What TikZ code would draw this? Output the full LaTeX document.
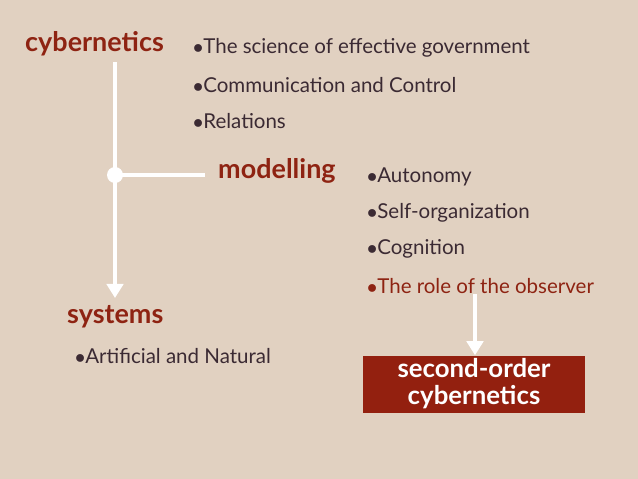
\documentclass[tikz,border=0pt]{standalone}
\usepackage{fontspec}
\setmainfont{Lato}
\usetikzlibrary{arrows.meta,positioning}
\definecolor{bgbeige}{HTML}{E1D1C1}
\definecolor{titlered}{HTML}{8E2312}
\definecolor{textdark}{HTML}{3B2A33}
\definecolor{boxred}{HTML}{93200F}

\begin{document}
\begin{tikzpicture}[x=0.03cm, y=-0.03cm,
    title/.style={anchor=west, inner sep=0pt, text=titlered, font=\fontsize{23}{26}\selectfont\bfseries},
    item/.style={anchor=west, inner sep=0pt, text=textdark, font=\fontsize{17.5}{20}\selectfont},
    flow/.style={white, line width=3.5pt, -{Triangle[length=12pt, width=14pt]}}
]
    \fill[bgbeige] (0,0) rectangle (638,479);
    \useasboundingbox (0,0) rectangle (638,479);

    \node (cybernetics) [title] at (25, 44) {cybernetics};
    \node (government) [item] at (193, 48) {$\bullet$The science of effective government};
    \node (communication) [item] at (193, 85) {$\bullet$Communication and Control};
    \node (relations) [item] at (193, 121) {$\bullet$Relations};

    %modelling
    \node (modelling) [title] at (218, 171) {modelling};
    \node (autonomy) [item] at (367, 177) {$\bullet$Autonomy};
    \node (selforg) [item] at (367, 213) {$\bullet$Self-organization};
    \node (cognition) [item] at (367, 249) {$\bullet$Cognition};
    \node (observer) [item, text=titlered] at (367, 286) {$\bullet$The role of the observer};

    %systems
    \node (systems) [title] at (67, 317) {systems};
    \node (natural) [item] at (75, 356) {$\bullet$Artificial and Natural};

    \node (second_order) [fill=boxred, text=white, inner sep=0pt,
        text width=6.66cm, minimum height=1.71cm, align=center,
        font=\fontsize{22}{23}\selectfont\bfseries] at (474, 384)
    {
        second-order\\cybernetics
    };

    \coordinate (fork) at (115, 175);
    \coordinate (top) at (115, 62);
    \coordinate (bottom) at (115, 298);
    \coordinate (branch) at (205, 175);
    \coordinate (obs_start) at (475, 294);

    \draw[white, line width=3.5pt] (top) -- (fork) -- (branch);
    \draw[flow] (fork) -- (bottom);
    \fill[white] (fork) circle (8);
    \draw[flow] (obs_start) -- (second_order.north -| obs_start);

\end{tikzpicture}
\end{document}
